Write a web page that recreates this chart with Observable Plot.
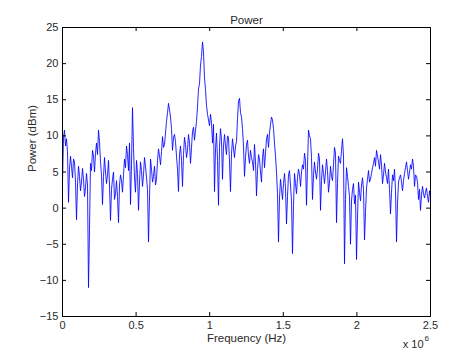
<!DOCTYPE html>
<html>
<head>
<meta charset="utf-8">
<script src="https://cdn.jsdelivr.net/npm/d3@7"></script>
<script src="https://cdn.jsdelivr.net/npm/@observablehq/plot@0.6"></script>
<style>
  html, body { margin: 0; padding: 0; background: #fff; }
  #chart { width: 474px; height: 355px; }
</style>
</head>
<body>
<div id="chart"></div>
<script>
// ---- data ----
const title = "Power";
const xLabel = "Frequency (Hz)";
const yLabel = "Power (dBm)";
const xScaleNote = "x 10";
const xScaleExp = "6";
const fMax = 2.5e6; // last frequency bin (Hz)
const xTicks = [0, 0.5e6, 1e6, 1.5e6, 2e6, 2.5e6];
const xTickLabels = ["0", "0.5", "1", "1.5", "2", "2.5"];
const yTicks = [-15, -10, -5, 0, 5, 10, 15, 20, 25];

// power (dBm) at evenly spaced frequency bins from 0 to fMax
const powerDbm = [
  3.5, 9.8, 10.8, 8.6, 9.6, 7.8, 0.8, 5.4, 7.2, 5.8,
  4.2, 6.8, 6.4, 3.6, -1.6, 3.2, 5.8, 4.4, 2.4, 3.6,
  5.5, 4.0, 1.6, 2.8, 4.8, 3.2, -11.0, -3.0, 6.2, 5.2,
  8.0, 7.2, 5.0, 7.6, 9.0, 7.4, 10.8, 9.2, 6.4, 4.6,
  0.5, 4.4, 7.0, 5.0, 3.4, 4.6, 6.6, 3.2, -1.7, 2.6,
  4.0, 5.0, 1.2, 2.0, 3.8, 1.6, -2.0, 3.2, 4.6, 3.8,
  2.2, 4.6, 6.8, 5.6, 8.6, 7.4, 5.2, 9.0, 0.5, 6.0,
  13.9, 8.4, 4.2, 2.2, 6.6, 4.8, -0.3, 3.6, 6.4, 5.2,
  3.0, 4.6, 7.0, 5.8, 4.2, 2.6, -4.7, 1.4, 6.8, 5.4,
  3.6, 4.4, 5.8, 3.2, 4.0, 6.6, 8.2, 7.2, 6.0, 7.8,
  9.9, 8.4, 8.8, 10.4, 12.0, 13.2, 14.5, 13.6, 12.6, 11.0,
  8.0, 9.8, 10.2, 9.2, 7.2, 5.4, 2.3, 7.4, 8.6, 6.6,
  3.0, 7.4, 9.8, 8.8, 7.0, 8.0, 10.2, 9.0, 6.2, 8.4,
  10.6, 11.2, 9.4, 10.8, 12.0, 14.0, 16.5, 17.2, 19.8, 21.0,
  23.0, 21.6, 18.0, 16.4, 14.2, 13.0, 12.2, 11.4, 13.0, 11.8,
  9.0, 11.6, 2.3, 8.2, 10.4, 6.6, 0.4, 8.4, 11.0, 9.4,
  4.0, 8.6, 10.2, 8.6, 7.4, 10.0, 9.8, 6.4, 2.3, 7.6,
  9.6, 8.2, 7.0, 8.6, 9.2, 12.4, 14.8, 15.2, 13.2, 12.6,
  11.0, 8.6, 4.4, 7.0, 8.8, 9.4, 7.2, 6.2, 8.0, 7.0,
  6.4, 5.2, 8.8, 6.4, 1.7, 5.2, 7.4, 6.8, 5.0, 3.6,
  7.0, 8.2, 5.6, 7.6, 9.6, 10.2, 8.4, 10.4, 11.6, 12.6,
  12.2, 11.0, 9.0, 7.2, 5.0, 2.0, -4.7, 1.4, 4.0, 2.6,
  1.2, 3.4, 4.8, 2.8, -2.2, 1.6, 4.6, 5.2, 3.2, 1.0,
  -6.3, 0.4, 4.8, 3.4, 2.0, 4.2, 5.4, 4.6, 3.0, 5.0,
  6.0, 5.4, 7.6, 6.6, 0.4, 5.8, 10.8, 10.0, 9.6, 7.0,
  1.2, 4.6, 6.4, 5.0, 4.0, 5.4, 7.6, 6.8, -0.3, 3.8,
  6.0, 4.8, 3.4, 5.0, 6.8, 5.2, 2.2, 3.6, 5.8, 4.4,
  3.8, 6.0, 8.4, 7.6, -2.0, 3.4, 7.2, 6.6, 6.2, 8.0,
  9.6, 7.2, -7.7, 1.2, 5.6, 4.4, 3.0, 1.6, -5.0, 1.0,
  2.6, 3.4, 0.6, 1.8, -7.1, -1.4, 3.6, 2.2, 1.0, 3.2,
  4.2, 2.6, -4.4, -0.6, 2.8, 4.0, 5.2, 3.6, 4.0, 4.8,
  5.6, 6.2, 7.0, 5.8, 8.0, 7.2, 6.4, 5.4, 7.4, 6.0,
  3.4, 4.6, 6.2, 5.0, 4.2, 3.4, 5.4, 2.6, -0.8, 2.2,
  4.6, 3.8, 5.4, 2.4, -4.7, 0.6, 3.6, 4.2, 4.6, 3.6,
  2.4, 3.8, 4.8, 5.6, 6.4, 5.2, 4.0, 5.0, 6.0, 5.4,
  6.8, 5.8, 3.0, 4.6, 4.4, 3.6, 1.2, 2.6, -0.3, 1.8,
  3.0, 2.0, 1.4, 2.2, 2.8, 1.6, 0.8, 2.4, 1.6
];

// ---- table for the library ----
const n = powerDbm.length;
const spectrum = powerDbm.map((p, i) => ({f: (i * fMax) / (n - 1), p}));

const W = 474, H = 355;
const mL = 62, mR = 44, mT = 27, mB = 39;
const frameW = W - mL - mR, frameH = H - mT - mB;
const tickLen = 4;
const font = "Liberation Sans, Arial, sans-serif";
const textColor = "#2a2a2a";

const chart = Plot.plot({
  width: W,
  height: H,
  marginLeft: mL,
  marginRight: mR,
  marginTop: mT,
  marginBottom: mB,
  style: {fontFamily: font, fontSize: "11px", color: textColor, background: "#fff"},
  x: {domain: [0, fMax]},
  y: {domain: [-15, 25]},
  marks: [
    Plot.line(spectrum, {x: "f", y: "p", stroke: "#0000ff", strokeWidth: 0.85}),
    Plot.frame({stroke: "#000", strokeWidth: 1}),
    // inward ticks on all four sides (MATLAB style)
    Plot.tickX(xTicks, {x: d => d, stroke: "#000", insetTop: frameH - tickLen}),
    Plot.tickX(xTicks, {x: d => d, stroke: "#000", insetBottom: frameH - tickLen}),
    Plot.tickY(yTicks, {y: d => d, stroke: "#000", insetRight: frameW - tickLen}),
    Plot.tickY(yTicks, {y: d => d, stroke: "#000", insetLeft: frameW - tickLen}),
    Plot.axisX(xTicks, {tickSize: 0, tickPadding: 5, label: null,
      tickFormat: d => xTickLabels[xTicks.indexOf(d)], fill: textColor, fontSize: 11}),
    Plot.axisY(yTicks, {tickSize: 0, tickPadding: 4, label: null, fill: textColor, fontSize: 11}),
    Plot.text([title], {frameAnchor: "top", dy: -12, text: d => d, fill: textColor, fontSize: 11.5}),
    Plot.text([xLabel], {frameAnchor: "bottom", dy: 25, text: d => d, fill: textColor, fontSize: 11.5}),
    Plot.text([yLabel], {frameAnchor: "left", dx: -30, rotate: -90, text: d => d, fill: textColor, fontSize: 11.5}),
    Plot.text([xScaleNote], {frameAnchor: "bottom-right", textAnchor: "end", dx: -7, dy: 31, text: d => d, fill: textColor, fontSize: 11}),
    Plot.text([xScaleExp], {frameAnchor: "bottom-right", textAnchor: "start", dx: -6, dy: 24, text: d => d, fill: textColor, fontSize: 8})
  ]
});
document.getElementById("chart").appendChild(chart);
</script>
</body>
</html>
